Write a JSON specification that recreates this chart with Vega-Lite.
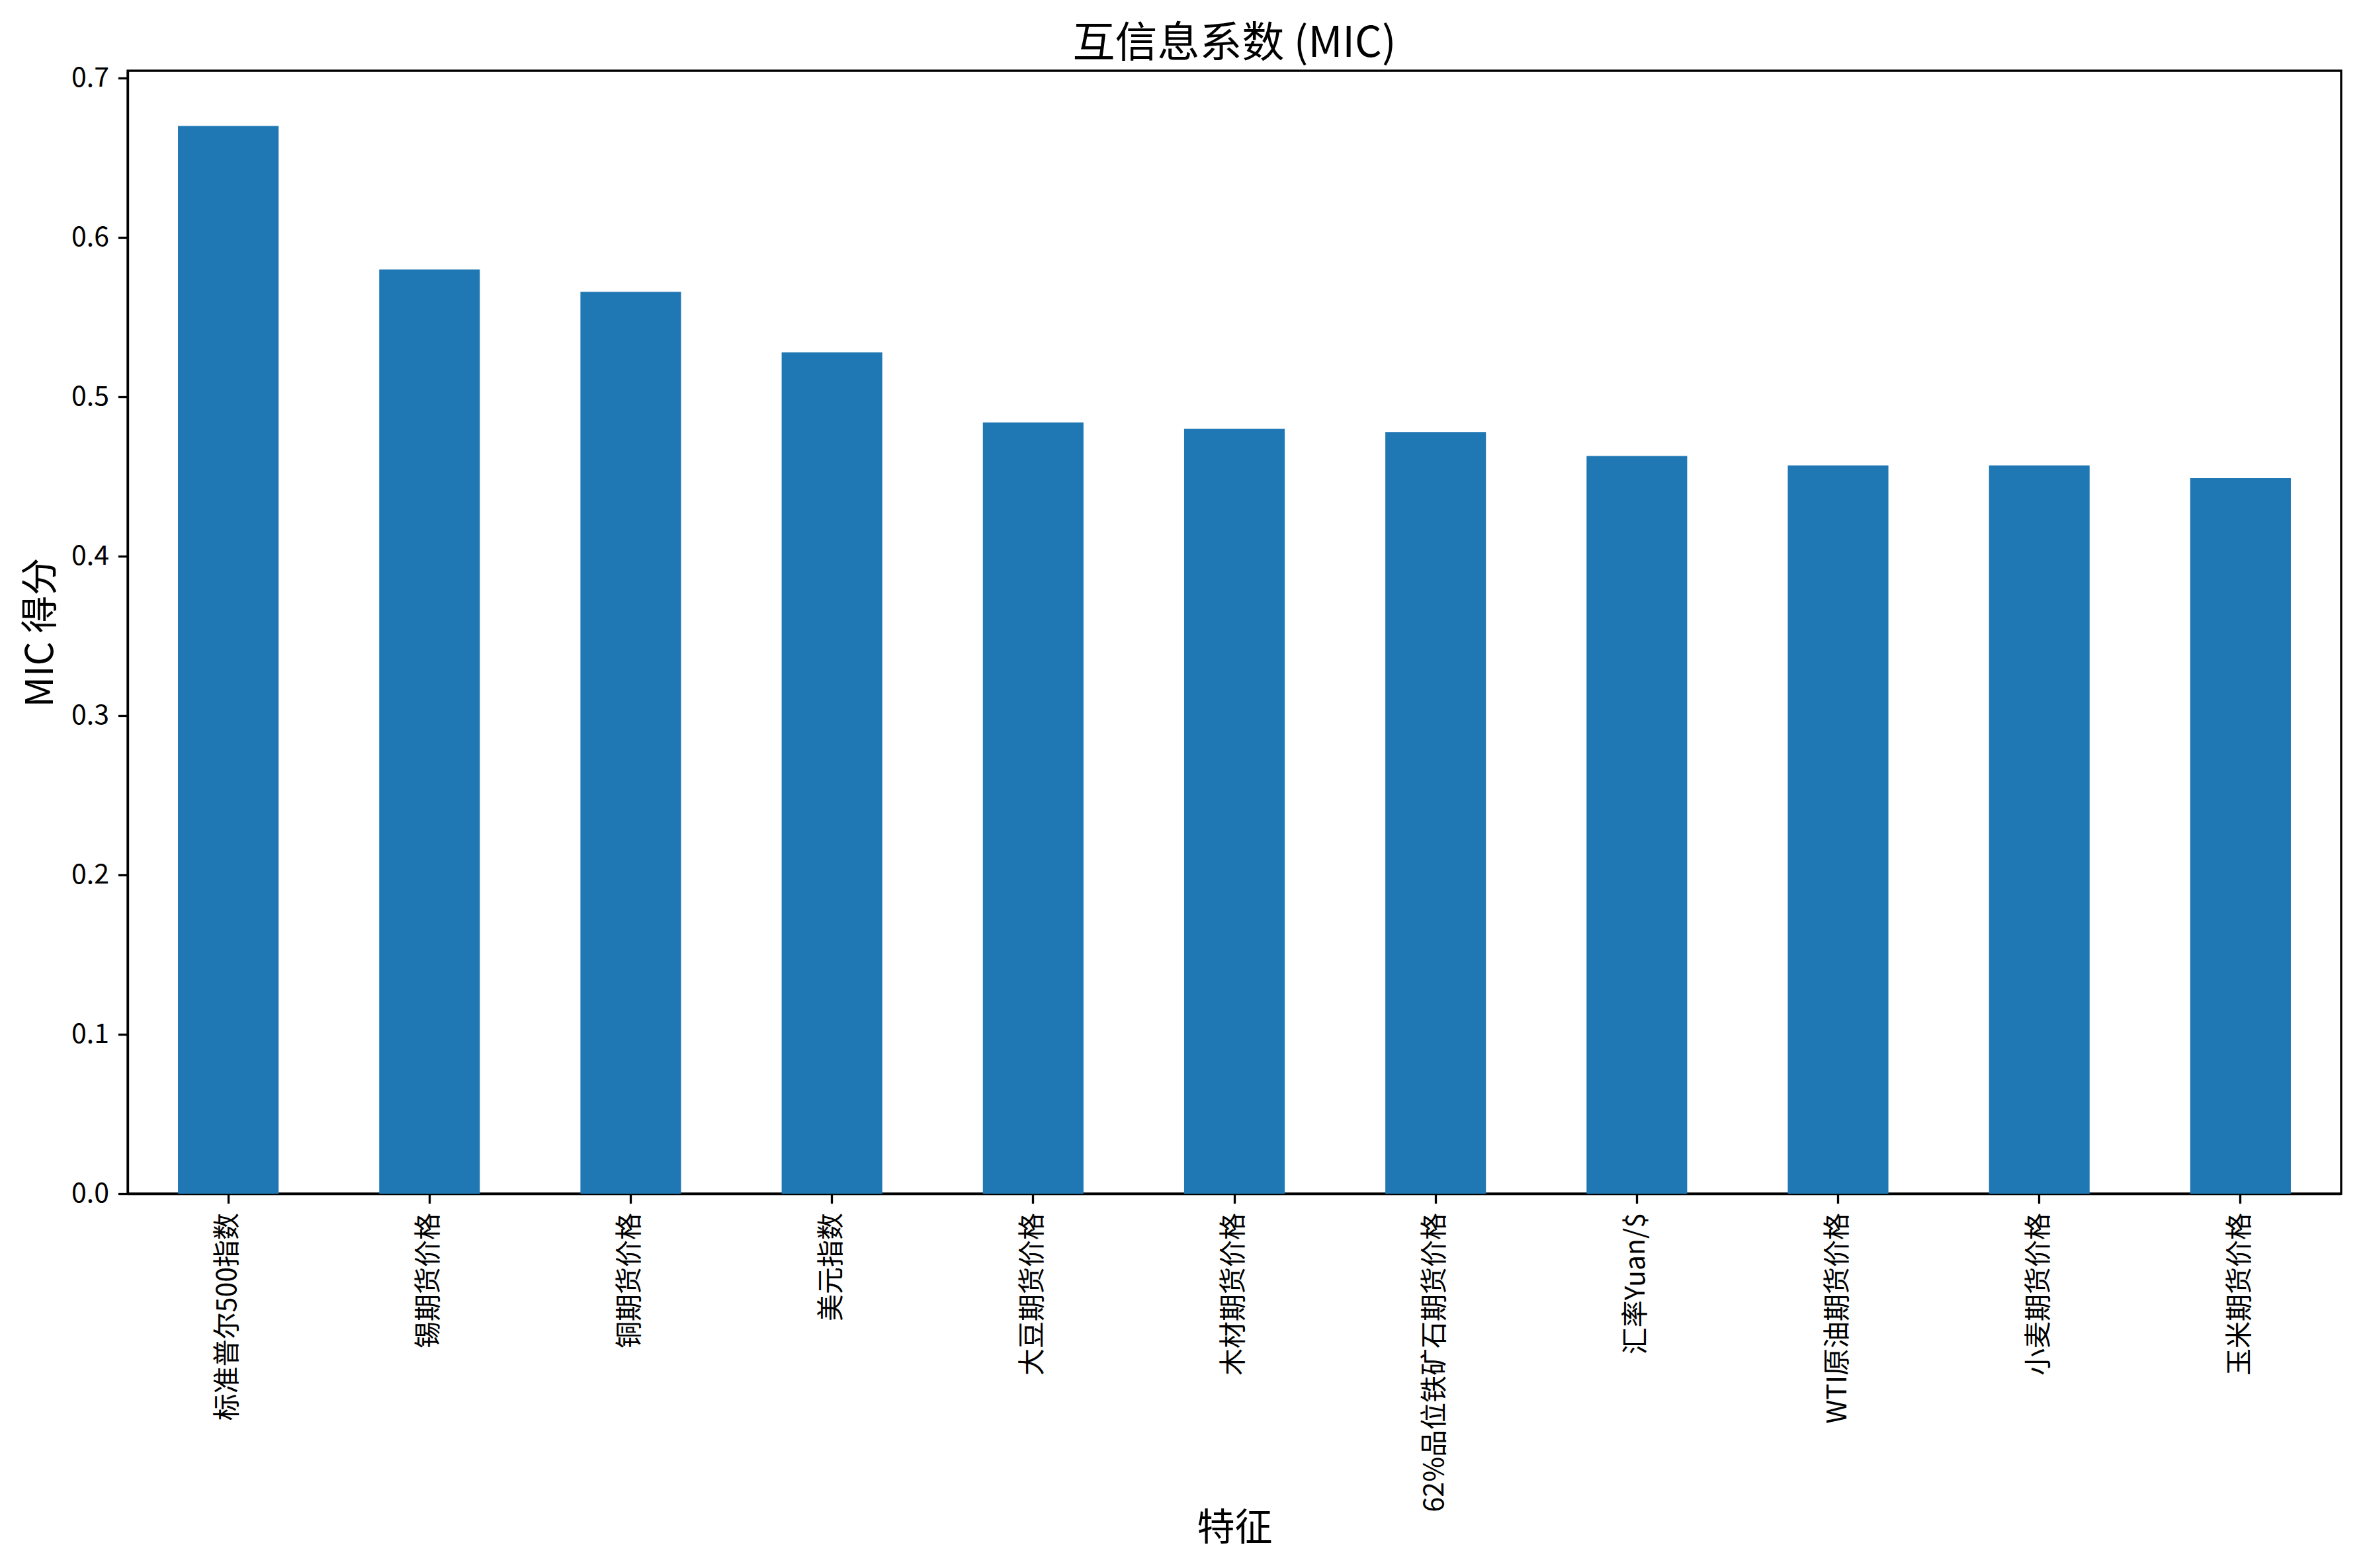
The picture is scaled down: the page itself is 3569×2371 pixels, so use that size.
{
  "$schema": "https://vega.github.io/schema/vega-lite/v6.json",
  "autosize": {"type": "none"},
  "padding": {"left": 193, "top": 107, "right": 30, "bottom": 566},
  "width": 3346,
  "height": 1698,
  "background": "white",
  "title": {
    "text": "互信息系数 (MIC)",
    "font": "Noto Sans CJK SC",
    "fontSize": 64,
    "fontWeight": "normal",
    "color": "black",
    "anchor": "middle",
    "frame": "group",
    "offset": -2
  },
  "config": {
    "font": "Noto Sans CJK SC",
    "view": {"stroke": "black", "strokeWidth": 3.3},
    "axis": {
      "domainColor": "black",
      "domainWidth": 3.3,
      "tickColor": "black",
      "tickWidth": 3.3,
      "tickSize": 14.6,
      "labelPadding": 14,
      "labelFont": "Noto Sans CJK SC",
      "labelFontSize": 41,
      "labelColor": "black",
      "titleFont": "Noto Sans CJK SC",
      "titleFontSize": 57,
      "titleFontWeight": "normal",
      "titleColor": "black",
      "grid": false
    }
  },
  "data": {
    "values": [
      {"feature": "标准普尔500指数", "mic": 0.670},
      {"feature": "锡期货价格", "mic": 0.580},
      {"feature": "铜期货价格", "mic": 0.566},
      {"feature": "美元指数", "mic": 0.528},
      {"feature": "大豆期货价格", "mic": 0.484},
      {"feature": "木材期货价格", "mic": 0.480},
      {"feature": "62%品位铁矿石期货价格", "mic": 0.478},
      {"feature": "汇率Yuan/$", "mic": 0.463},
      {"feature": "WTI原油期货价格", "mic": 0.457},
      {"feature": "小麦期货价格", "mic": 0.457},
      {"feature": "玉米期货价格", "mic": 0.449}
    ]
  },
  "mark": {"type": "bar", "color": "#1f77b4"},
  "encoding": {
    "x": {
      "field": "feature",
      "type": "nominal",
      "sort": null,
      "title": "特征",
      "scale": {"paddingInner": 0.5, "paddingOuter": 0.25},
      "axis": {"labelAngle": 270, "labelLimit": 2000, "titleAngle": 0, "titleY": 478, "titleBaseline": "top", "titleLimit": 2000}
    },
    "y": {
      "field": "mic",
      "type": "quantitative",
      "title": "MIC 得分",
      "scale": {"domain": [0, 0.7047], "nice": false, "zero": true},
      "axis": {"values": [0, 0.1, 0.2, 0.3, 0.4, 0.5, 0.6, 0.7], "format": ".1f", "titlePadding": 16}
    }
  }
}
